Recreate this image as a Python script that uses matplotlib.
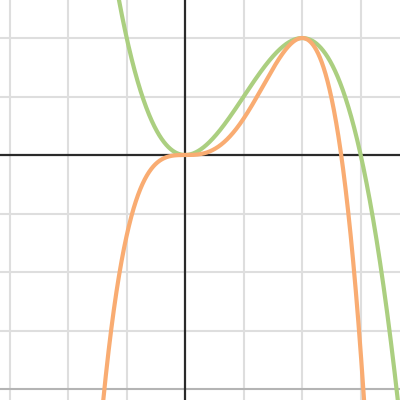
import numpy as np
import matplotlib
matplotlib.use("Agg")
import matplotlib.pyplot as plt
from numpy.polynomial import polynomial as P

# Polynomial coefficients (ascending powers)
green_coeffs = [0.0, 0.0, 1.5, -0.5]          # x^2 (3 - x) / 2
orange_coeffs = [0.0, 0.0, 0.0, 1.0, -0.375]  # x^3 - 3/8 x^4

grid_x = [-3, -2, -1, 1, 2, 3]
grid_y = [-3, -2, -1, 1, 2]
grid_y_dark = [-4]

xlim = (-3.166, 3.672)
ylim = (-4.188, 2.65)

fig = plt.figure(figsize=(4, 4), dpi=100)
ax = fig.add_axes([0, 0, 1, 1])
ax.set_xlim(*xlim)
ax.set_ylim(*ylim)
ax.axis("off")

for gx in grid_x:
    ax.axvline(gx, color="#dedede", lw=1.5, zorder=1)
for gy in grid_y:
    ax.axhline(gy, color="#dedede", lw=1.5, zorder=1)
for gy in grid_y_dark:
    ax.axhline(gy, color="#b4b4b4", lw=1.5, zorder=1)

ax.axhline(0, color="#2a2a2a", lw=1.6, zorder=2)
ax.axvline(0, color="#2a2a2a", lw=1.6, zorder=2)

xs = np.linspace(xlim[0], xlim[1], 2000)
ax.plot(xs, P.polyval(xs, green_coeffs), color="#abcf80", lw=3.0, zorder=3,
        solid_capstyle="round")
ax.plot(xs, P.polyval(xs, orange_coeffs), color="#f9ac72", lw=3.0, zorder=4,
        solid_capstyle="round")

fig.savefig("out.png", dpi=100)
